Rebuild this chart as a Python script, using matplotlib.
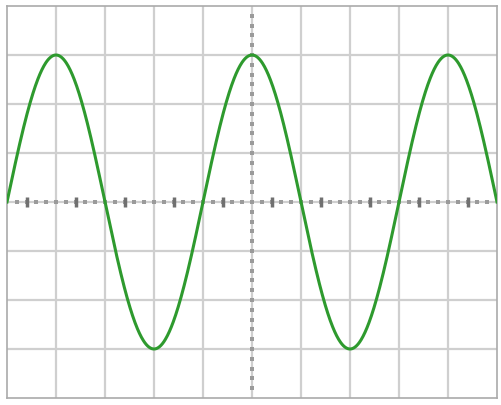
import numpy as np
import matplotlib.pyplot as plt

# screen in divisions: 10 wide, 8 tall
n_x_div = 10
n_y_div = 8
amplitude = 3.0
period = 4.0

t = np.linspace(0, n_x_div, 1000)
signal = amplitude * np.sin(2 * np.pi * t / period)

fig = plt.figure(figsize=(5.01, 4.06), dpi=100)
ax = fig.add_axes([7 / 501, 7 / 406, 490 / 501, 392 / 406])
ax.set_xlim(0, n_x_div)
ax.set_ylim(-n_y_div / 2, n_y_div / 2)

# grid
for gx in range(1, n_x_div):
    ax.axvline(gx, color='#cfcfcf', lw=1.6, zorder=1)
for gy in range(-n_y_div // 2 + 1, n_y_div // 2):
    ax.axhline(gy, color='#cfcfcf', lw=1.6, zorder=1)

# dotted centre axes
xs = np.arange(0.2, n_x_div, 0.2)
ax.plot(xs, np.zeros_like(xs), 's', color='#9a9a9a', ms=2.6, mew=0, zorder=2)
ys = np.arange(-n_y_div / 2 + 0.2, n_y_div / 2, 0.2)
ax.plot(np.full_like(ys, n_x_div / 2), ys, 's', color='#9a9a9a', ms=2.6, mew=0, zorder=2)
big_x = np.arange(0.4, n_x_div, 1.0)
ax.plot(big_x, np.zeros_like(big_x), '|', color='#707070', ms=7, mew=2.5, zorder=2)

ax.plot(t, signal, color='#2e9a2e', lw=2.2, zorder=3)

ax.set_xticks([])
ax.set_yticks([])
for s in ax.spines.values():
    s.set_color('#aaaaaa')
    s.set_linewidth(1.2)

fig.savefig('out.png', dpi=100)
